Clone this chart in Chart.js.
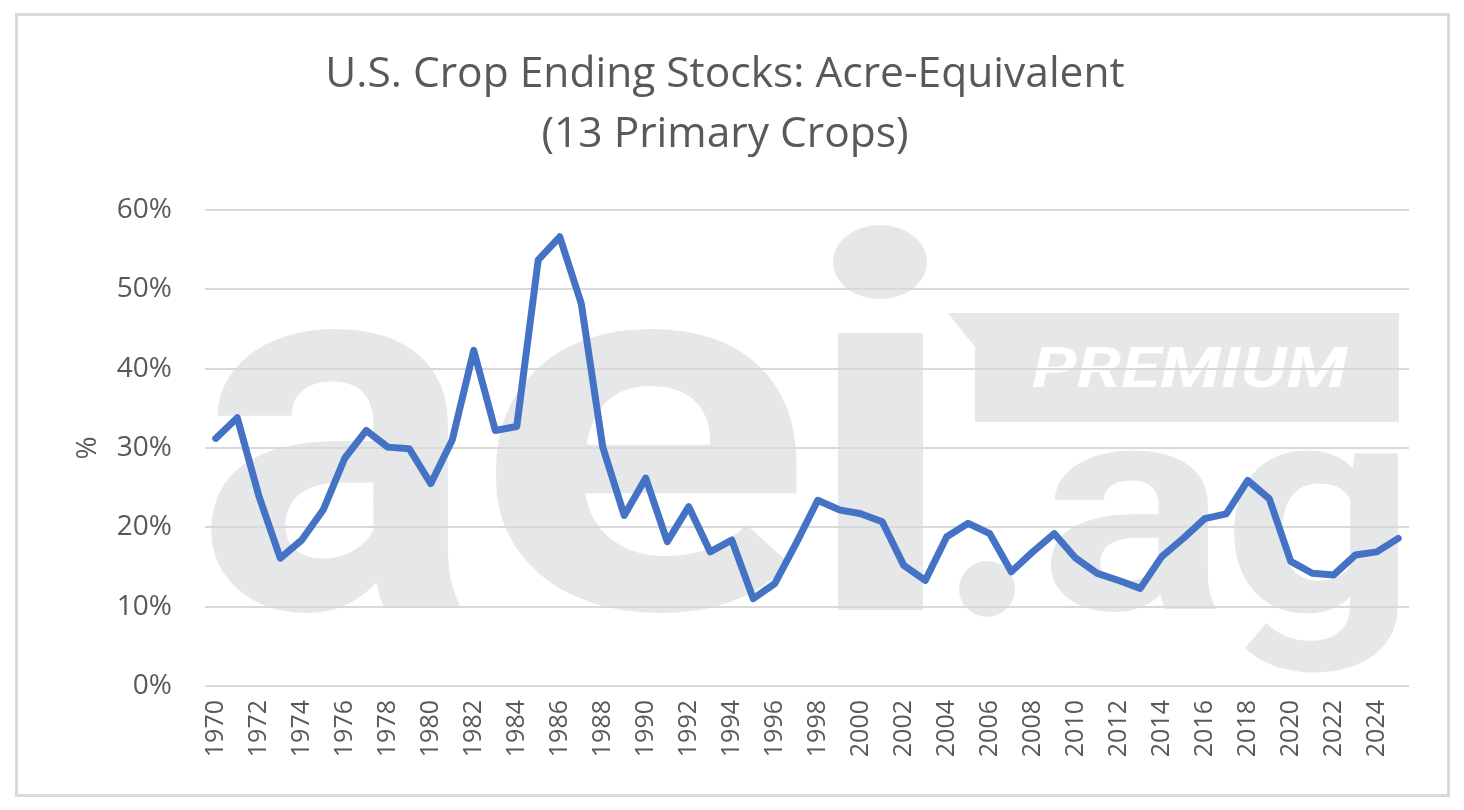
<!DOCTYPE html>
<html>
<head>
<meta charset="utf-8">
<script src="https://cdn.jsdelivr.net/npm/chart.js@4/dist/chart.umd.min.js"></script>
<style>
    html, body { margin: 0; padding: 0; background: #fff; }
    #wrap { position: relative; width: 1464px; height: 810px; }
    #frame {
        position: absolute; left: 15px; top: 13px; width: 1435px; height: 784px;
        border: 3px solid #d9d9d9; box-sizing: border-box; pointer-events: none;
    }
</style>
</head>
<body>
<div id="wrap">
    <canvas id="canvas-chart" width="1464" height="810"></canvas>
    <div id="frame"></div>
</div>
<script>

var years = [];
for (var y = 1970; y <= 2025; y++) {
    years.push(String(y));
}

// ending stocks, acre-equivalent, %
var stocks = [
    31.2, 33.8, 24.0, 16.1, 18.4, 22.2, 28.7, 32.2, 30.1, 29.9,
    25.5, 31.0, 42.3, 32.2, 32.7, 53.7, 56.6, 48.2, 30.1, 21.5,
    26.2, 18.2, 22.6, 16.9, 18.4, 11.0, 12.9, 18.0, 23.4, 22.2,
    21.7, 20.7, 15.2, 13.3, 18.8, 20.5, 19.2, 14.4, 16.9, 19.2,
    16.1, 14.2, 13.3, 12.3, 16.3, 18.6, 21.1, 21.7, 25.9, 23.6,
    15.7, 14.2, 14.0, 16.5, 16.9, 18.6
];

var titleLines = ['U.S. Crop Ending Stocks: Acre-Equivalent', '(13 Primary Crops)'];

var grey = '#595959';
var markGrey = '#e6e7e8';

//把字形拉伸到指定的框里
function fitText(ctx, text, font, x0, x1, y0, y1) {
    ctx.save();
    ctx.font = font;
    ctx.textBaseline = 'alphabetic';
    ctx.textAlign = 'left';
    var m = ctx.measureText(text);
    var left = -m.actualBoundingBoxLeft;
    var right = m.actualBoundingBoxRight;
    var top = -m.actualBoundingBoxAscent;
    var bottom = m.actualBoundingBoxDescent;
    var sx = (x1 - x0) / (right - left);
    var sy = (y1 - y0) / (bottom - top);
    ctx.translate(x0 - left * sx, y0 - top * sy);
    ctx.scale(sx, sy);
    ctx.fillText(text, 0, 0);
    ctx.restore();
}

var watermark = {
    id: 'watermark',
    beforeDraw: function (chart) {
        var ctx = chart.ctx;
        var big = 'bold 100px Roboto, "Liberation Sans", sans-serif';

        ctx.save();
        ctx.fillStyle = markGrey;

        fitText(ctx, 'a', big, 210, 463, 328, 613);
        fitText(ctx, 'e', big, 493, 800, 328, 613);

        // i
        ctx.fillRect(838, 333, 85, 277);
        ctx.beginPath();
        ctx.ellipse(880, 262, 47, 37, 0, 0, Math.PI * 2);
        ctx.fill();

        // .
        ctx.beginPath();
        ctx.arc(987, 589, 28, 0, Math.PI * 2);
        ctx.fill();

        fitText(ctx, 'a', big, 1050, 1218, 450, 612);
        fitText(ctx, 'g', big, 1233, 1399, 450, 673);

        // premium tag
        ctx.beginPath();
        ctx.moveTo(948, 313);
        ctx.lineTo(1399, 313);
        ctx.lineTo(1399, 422);
        ctx.lineTo(975, 422);
        ctx.lineTo(975, 347);
        ctx.closePath();
        ctx.fill();

        ctx.fillStyle = '#ffffff';
        fitText(ctx, 'PREMIUM', 'italic bold 100px Roboto, "Liberation Sans", sans-serif', 1033, 1348, 347, 388);

        ctx.restore();
    }
};

var canvas = document.getElementById('canvas-chart');
var context = canvas.getContext('2d');

var chart = new Chart(context, {
    type: 'line',
    data: {
        'labels': years,
        'datasets': [{
            'label': 'Ending stocks',
            'data': stocks,
            'borderColor': '#4472C4',
            'backgroundColor': '#4472C4',
            'borderWidth': 7,
            'borderJoinStyle': 'round',
            'borderCapStyle': 'round',
            'pointRadius': 0,
            'tension': 0,
        }],
    },
    plugins: [watermark],
    options: {
        responsive: false,
        animation: false,
        layout: {
            padding: { left: 41, right: 55, top: 0, bottom: 0 },
        },
        plugins: {
            legend: { display: false },
            tooltip: { enabled: false },
            title: {
                display: true,
                text: titleLines,
                color: grey,
                font: { family: '"Open Sans", sans-serif', size: 42.5, weight: 'normal', lineHeight: 1.41 },
                padding: { top: 45, bottom: 45 },
            },
        },
        scales: {
            x: {
                offset: true,
                grid: { display: false, drawTicks: false },
                border: { display: false },
                ticks: {
                    autoSkip: false,
                    maxRotation: 90,
                    minRotation: 90,
                    padding: 14,
                    color: grey,
                    font: { family: '"Open Sans", sans-serif', size: 25 },
                    callback: function (value, index) {
                        return index % 2 == 0 && index < 55 ? years[index] : '';
                    },
                },
                afterFit: function (scale) {
                    scale.height = 124;
                },
            },
            y: {
                min: 0,
                max: 60,
                grid: { color: '#d9d9d9', lineWidth: 2, drawTicks: false },
                border: { display: false },
                ticks: {
                    stepSize: 10,
                    padding: 33,
                    color: grey,
                    font: { family: '"Open Sans", sans-serif', size: 28 },
                    callback: function (value) {
                        return value + '%';
                    },
                },
                title: {
                    display: true,
                    text: '%',
                    color: grey,
                    font: { family: '"Open Sans", sans-serif', size: 28 },
                    padding: { top: 30, bottom: 0 },
                },
                afterFit: function (scale) {
                    scale.width = 164;
                },
            },
        },
    },
});

</script>
</body>
</html>
